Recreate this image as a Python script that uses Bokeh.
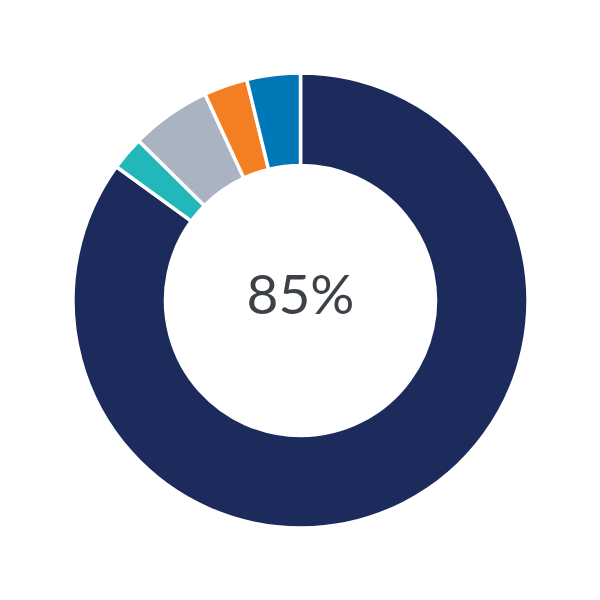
import math
from bokeh.plotting import figure
from bokeh.models import Range1d, ColumnDataSource
from bokeh.core.properties import value
from bokeh.embed import file_html
from bokeh.resources import INLINE

categories = ["A", "B", "C", "D", "E"]
values = [85.0, 2.4, 5.7, 3.1, 3.8]
colors = ["#1c2b5b", "#22b8ba", "#a9b3c1", "#f47f22", "#0077b6"]
center_label = "85%"

W = H = 584
cx, cy = 300, H - 300

total = sum(values)
starts, ends = [], []
acc = 0.0
for v in values:
    starts.append(math.pi / 2 - acc / total * 2 * math.pi)
    acc += v
    ends.append(math.pi / 2 - acc / total * 2 * math.pi)

src = ColumnDataSource(dict(cat=categories, val=values, color=colors,
                            start=starts, end=ends))

p = figure(width=W, height=H, output_backend="svg", toolbar_location=None,
           x_range=Range1d(0, W), y_range=Range1d(0, H), min_border=0)
p.axis.visible = False
p.grid.visible = False
p.outline_line_color = None
p.background_fill_color = "white"

p.annular_wedge(x=cx, y=cy, inner_radius=135, outer_radius=227.5,
                start_angle="start", end_angle="end", direction="clock",
                fill_color="color", line_color="white", line_width=3.5,
                source=src)

p.text(x=[cx], y=[cy + 8], text=[center_label], text_font=value("Lato"),
       text_font_size="55px", text_color="#3c4247", text_align="center",
       text_baseline="alphabetic")

open("out.html", "w").write(file_html(p, INLINE))
